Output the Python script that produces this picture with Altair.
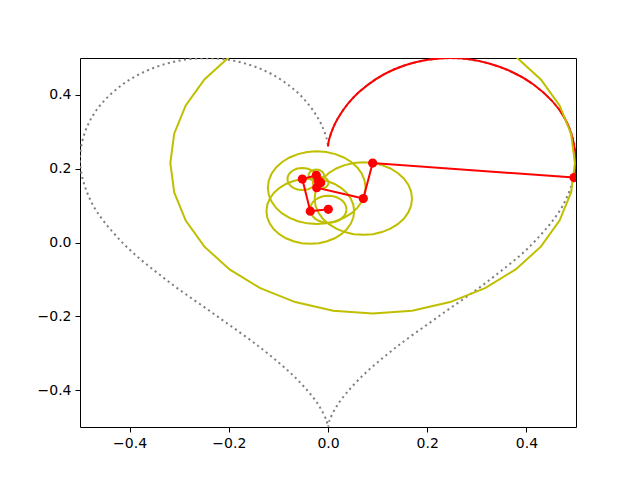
import math
import altair as alt
import pandas as pd

# Target heart outline (gray dotted)
heart_x = [0.0, 0.0026, 0.0200, 0.0625, 0.1328, 0.2248, 0.3248, 0.4149, 0.4776, 0.5000,
           0.4776, 0.4149, 0.3248, 0.2248, 0.1328, 0.0625, 0.0200, 0.0026, 0.0,
           -0.0026, -0.0200, -0.0625, -0.1328, -0.2248, -0.3248, -0.4149, -0.4776, -0.5000,
           -0.4776, -0.4149, -0.3248, -0.2248, -0.1328, -0.0625, -0.0200, -0.0026, 0.0]
heart_y = [0.2605, 0.2814, 0.3369, 0.4076, 0.4689, 0.4988, 0.4851, 0.4276, 0.3361, 0.2259,
           0.1110, 0.0004, -0.1025, -0.1986, -0.2887, -0.3707, -0.4385, -0.4839, -0.5000,
           -0.4839, -0.4385, -0.3707, -0.2887, -0.1986, -0.1025, 0.0004, 0.1110, 0.2259,
           0.3361, 0.4276, 0.4851, 0.4988, 0.4689, 0.4076, 0.3369, 0.2814, 0.2605]

# Traced path so far (red)
trace_x = [0.0, 0.0026, 0.0200, 0.0625, 0.1328, 0.2248, 0.3248, 0.4149, 0.4776, 0.5000, 0.4960]
trace_y = [0.2605, 0.2814, 0.3369, 0.4076, 0.4689, 0.4988, 0.4851, 0.4276, 0.3361, 0.2259, 0.1760]

# Epicycle chain joints (red dots)
chain_x = [0.0006, -0.0357, -0.0518, -0.0236, -0.0196, -0.0147, -0.0228, 0.0712, 0.0900, 0.4960]
chain_y = [0.0900, 0.0850, 0.1720, 0.1820, 0.1670, 0.1620, 0.1485, 0.1190, 0.2154, 0.1760]

tick_values = [-0.4, -0.2, 0.0, 0.2, 0.4]

heart_df = pd.DataFrame({"x": heart_x, "y": heart_y, "k": list(range(len(heart_x)))})
trace_df = pd.DataFrame({"x": trace_x, "y": trace_y, "k": list(range(len(trace_x)))})
chain_df = pd.DataFrame({"x": chain_x, "y": chain_y, "k": list(range(len(chain_x)))})

# Each epicycle: centred on a joint, passing through the next joint
N_SEG = 32
rows = []
for c in range(len(chain_x) - 1):
    cx, cy = chain_x[c], chain_y[c]
    r = math.hypot(chain_x[c + 1] - cx, chain_y[c + 1] - cy)
    for j in range(N_SEG + 1):
        a = 2 * math.pi * j / N_SEG
        rows.append({"cid": c, "k": j, "x": cx + r * math.cos(a), "y": cy + r * math.sin(a)})
circ_df = pd.DataFrame(rows)

xs = alt.Scale(domain=[-0.5, 0.5], nice=False, zero=False)
ys = alt.Scale(domain=[-0.5, 0.5], nice=False, zero=False)

axis_common = dict(values=tick_values, format=".1f", title=None, grid=False, domain=False,
                   tickColor="black", tickSize=5, tickWidth=1, labelFontSize=14,
                   labelColor="black", labelFont="DejaVu Sans", labelPadding=4)
X = alt.X("x:Q", scale=xs, axis=alt.Axis(**axis_common))
Y = alt.Y("y:Q", scale=ys, axis=alt.Axis(**axis_common))

heart = alt.Chart(heart_df).mark_line(
    color="#808080", strokeWidth=2, strokeDash=[2.1, 3.4], clip=True,
    interpolate="catmull-rom"
).encode(x=X, y=Y, order="k:Q")

trace = alt.Chart(trace_df).mark_line(
    color="#ff0000", strokeWidth=2, clip=True, interpolate="catmull-rom"
).encode(x=X, y=Y, order="k:Q")

circles = alt.Chart(circ_df).mark_line(
    color="#bfbf00", strokeWidth=2, clip=True
).encode(x=X, y=Y, detail="cid:N", order="k:Q")

chain_line = alt.Chart(chain_df).mark_line(
    color="#ff0000", strokeWidth=2, clip=True
).encode(x=X, y=Y, order="k:Q")

chain_pts = alt.Chart(chain_df).mark_circle(
    color="#ff0000", size=85, opacity=1, clip=True
).encode(x=X, y=Y)

chart = alt.layer(heart, trace, circles, chain_line, chain_pts).properties(
    width=496, height=369,
    padding={"left": 72, "top": 50, "right": 56, "bottom": 45},
    autosize=alt.AutoSizeParams(type="none"),
).configure_view(stroke="black", strokeWidth=1)

chart.save("out.html", embed_options={"renderer": "svg", "actions": False})
